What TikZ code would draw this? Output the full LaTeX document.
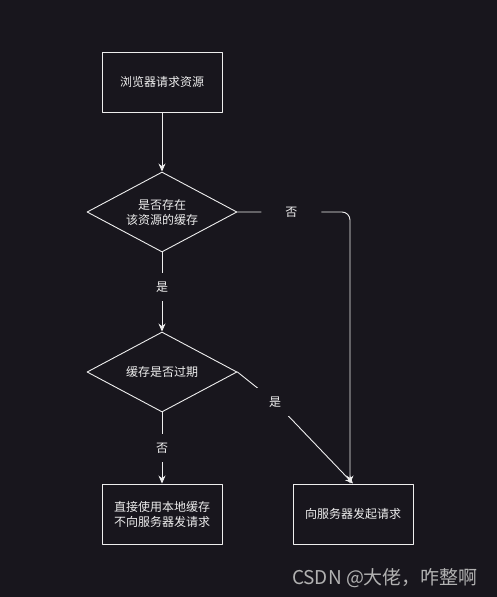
\documentclass[tikz,border=0pt]{standalone}
\usepackage{fontspec}
\newfontfamily\cjk{Noto Sans CJK SC}
\usetikzlibrary{shapes.geometric,arrows.meta}
\definecolor{bg}{RGB}{24,22,29}
\definecolor{fg}{RGB}{238,238,238}
\begin{document}
\begin{tikzpicture}[>={Stealth[length=8pt,width=7pt]}, x=1pt, y=-1pt, font=\cjk\fontsize{12}{15}\selectfont, line join=round, line cap=round]
	\tikzset{
		box/.style={draw=fg, text=fg, minimum width=120, minimum height=60, align=center, inner sep=0, line width=0.9},
		decision/.style={diamond, draw=fg, text=fg, minimum width=150, minimum height=80, shape aspect=1.875, align=center, inner sep=0, line width=0.9},
		lbl/.style={fill=bg, text=fg, minimum width=60, minimum height=28, inner sep=0},
		flow/.style={->, draw=fg, line width=0.9}
	}
	% --- Nền ---
	\fill[bg] (0,0) rectangle (497,597);
	% --- Các nút ---
	\node[box] (req) at (162,82) {浏览器请求资源};
	\node[decision] (has) at (162,212) {是否存在\\该资源的缓存};
	\node[decision] (exp) at (162,372) {缓存是否过期};
	\node[box] (local) at (162,514) {直接使用本地缓存\\不向服务器发请求};
	\node[box] (server) at (353,514) {向服务器发起请求};
	\coordinate (bend) at (275,402);
	% --- Các mũi tên ---
	\draw[flow] (req) -- (has);
	\draw[flow] (has) -- node[lbl, pos=0.44]{是} (exp);
	\draw[flow, rounded corners=8] (has.east) -| node[lbl, pos=0.24]{否} ([xshift=-3]server.north);
	\draw[flow] (exp) -- node[lbl]{否} (local);
	\draw[flow] (exp.east) -- (bend) -- (server.north);
	\node[lbl] (yes2) at (bend) {是};
	% --- Watermark ---
	\node[text=gray!60!white, font=\cjk\fontsize{19}{20}\selectfont] (wm) at (385,578) {CSDN @大佬，咋整啊};
\end{tikzpicture}
\end{document}
